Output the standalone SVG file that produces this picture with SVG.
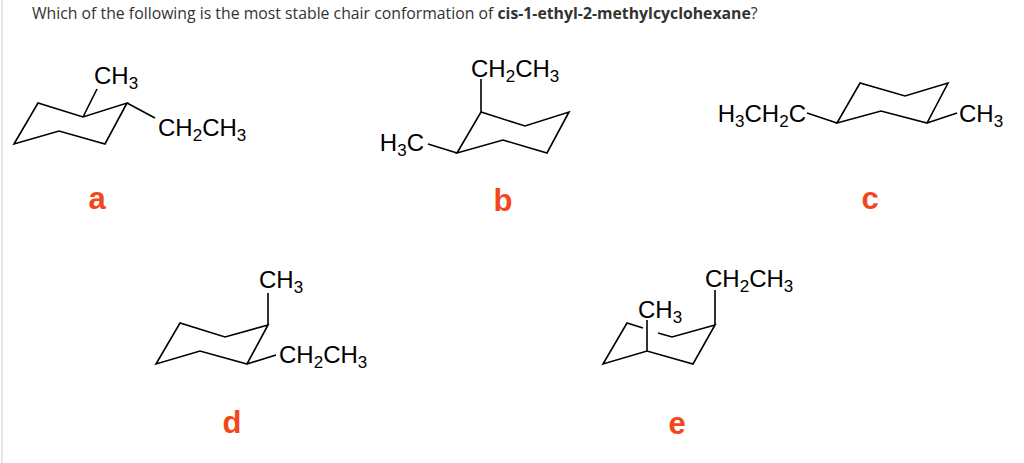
<svg xmlns="http://www.w3.org/2000/svg" width="1024" height="463" viewBox="0 0 1024 463">
<style>
.b{fill:none;stroke:#000;stroke-width:1.6;stroke-linejoin:miter}
.t{font-family:"Liberation Sans",Arial,sans-serif;font-size:24px;fill:#000}
.s{font-size:17px}
.l{font-family:"Liberation Sans",Arial,sans-serif;font-size:31px;font-weight:bold;fill:#f2461b;text-anchor:middle}
.q{font-family:"Open Sans","Liberation Sans",sans-serif;font-size:15.8px;fill:#333}
</style>
<rect width="1024" height="463" fill="#fff"/>
<line x1="2" y1="0" x2="2" y2="463" stroke="#e6e6e6" stroke-width="2"/>
<text class="q" x="32" y="19">Which of the following is the most stable chair conformation of <tspan font-weight="bold">cis-1-ethyl-2-methylcyclohexane</tspan>?</text>
<g id="a">
<path class="b" d="M14,144 L38,103 L83,117 L127,103 L105,144 L59,131 Z M83,117 L97,89 M127,103 L155,118"/>
<text class="t" x="94" y="84">CH<tspan class="s" dy="5">3</tspan></text>
<text class="t" x="158" y="136">CH<tspan class="s" dy="5">2</tspan><tspan dy="-5">CH</tspan><tspan class="s" dy="5">3</tspan></text>
<text class="l" x="97" y="209">a</text>
</g>
<g id="b">
<path class="b" d="M457,153 L481,112 L525,126 L569,112 L547,153 L503,140 Z M481,112 L481,79 M457,153 L428,144"/>
<text class="t" x="471" y="77">CH<tspan class="s" dy="5">2</tspan><tspan dy="-5">CH</tspan><tspan class="s" dy="5">3</tspan></text>
<text class="t" x="424" y="151" text-anchor="end">H<tspan class="s" dy="5">3</tspan><tspan dy="-5">C</tspan></text>
<text class="l" x="503" y="211">b</text>
</g>
<g id="c">
<path class="b" d="M837,123 L860,83 L905,96 L948,83 L927,123 L881,111 Z M837,123 L807,113 M927,123 L957,113"/>
<text class="t" x="806" y="122" text-anchor="end">H<tspan class="s" dy="5">3</tspan><tspan dy="-5">CH</tspan><tspan class="s" dy="5">2</tspan><tspan dy="-5">C</tspan></text>
<text class="t" x="959" y="122">CH<tspan class="s" dy="5">3</tspan></text>
<text class="l" x="870" y="209">c</text>
</g>
<g id="d">
<path class="b" d="M156,364 L180,323 L225,337 L268,325 L247,364 L200,351 Z M268,325 L268,293 M247,364 L276,355"/>
<text class="t" x="259" y="288">CH<tspan class="s" dy="5">3</tspan></text>
<text class="t" x="279" y="363">CH<tspan class="s" dy="5">2</tspan><tspan dy="-5">CH</tspan><tspan class="s" dy="5">3</tspan></text>
<text class="l" x="232" y="433">d</text>
</g>
<g id="e">
<path class="b" d="M643,328 L627,323 L603,364 L647,351 L693,364 L715,325 L672,337 L658,333 M647,351 L647,320 M715,325 L715,290"/>
<text class="t" x="638" y="318">CH<tspan class="s" dy="5">3</tspan></text>
<text class="t" x="705" y="287">CH<tspan class="s" dy="5">2</tspan><tspan dy="-5">CH</tspan><tspan class="s" dy="5">3</tspan></text>
<text class="l" x="677" y="434">e</text>
</g>
</svg>
